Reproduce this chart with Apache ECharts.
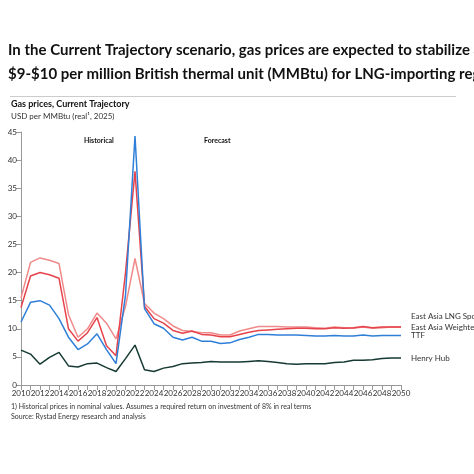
<!DOCTYPE html>
<html>
<head>
<meta charset="utf-8">
<script src="https://cdn.jsdelivr.net/npm/echarts@6/dist/echarts.min.js"></script>
<style>
  html, body { margin: 0; padding: 0; background: #fff; }
  #chart { width: 474px; height: 474px; }
</style>
</head>
<body>
<div id="chart"></div>
<script>
const years = [];
for (let y = 2010; y <= 2050; y++) years.push(String(y));

const spot = [13.8, 19.4, 20, 19.6, 19, 10, 7.8, 9.3, 12, 7, 5.2, 20, 38, 14, 11.8, 11, 9.7, 9.2, 9.6, 9, 8.9,
  8.6, 8.6, 9, 9.4, 9.7, 9.8, 9.9, 10, 10.1, 10.1, 10, 10, 10.2, 10.1, 10.2, 10.4, 10.2, 10.3, 10.3, 10.3];
const weighted = [15.5, 21.8, 22.6, 22.2, 21.6, 12.5, 8.5, 10, 12.8, 11, 8.2, 14, 22.5, 14.5, 12.8, 11.8, 10.5, 9.7, 9.5, 9.3, 9.3,
  8.9, 8.9, 9.6, 10, 10.4, 10.4, 10.4, 10.3, 10.3, 10.3, 10.2, 10.1, 10.3, 10.2, 10.1, 10.3, 10.1, 10.2, 10.3, 10.3];
const ttf = [11.2, 14.7, 15, 14.2, 11.8, 8.5, 6.3, 7.3, 9.1, 6.3, 3.8, 16, 44.3, 13.6, 10.9, 10.1, 8.5, 8, 8.5, 7.8, 7.8,
  7.4, 7.5, 8.1, 8.5, 9, 9, 8.9, 8.9, 8.9, 8.8, 8.7, 8.7, 8.8, 8.7, 8.7, 8.9, 8.7, 8.8, 8.8, 8.8];
const henryHub = [6.2, 5.5, 3.7, 4.9, 5.8, 3.4, 3.2, 3.8, 3.9, 3.1, 2.4, 4.7, 7.1, 2.7, 2.4, 3, 3.3, 3.8, 3.9, 4, 4.2,
  4.1, 4.1, 4.1, 4.2, 4.3, 4.2, 4, 3.8, 3.7, 3.8, 3.8, 3.8, 4, 4.1, 4.4, 4.4, 4.5, 4.7, 4.8, 4.8];

const font = "Lato, 'Open Sans', sans-serif";
const chart = echarts.init(document.getElementById("chart"));

function line(name, data, color, dy) {
  return {
    name, type: "line", data, symbol: "none", smooth: false,
    lineStyle: { color, width: 1.5 },
    itemStyle: { color },
    endLabel: { show: true, formatter: name, color: "#333", fontSize: 8, fontFamily: font, offset: [2, dy] },
    animation: false
  };
}

chart.setOption({
  backgroundColor: "#fff",
  textStyle: { fontFamily: font },
  grid: { left: 21, right: 73, top: 132, bottom: 89 },
  xAxis: {
    type: "category", data: years, boundaryGap: false,
    axisLine: { lineStyle: { color: "#999" } },
    axisTick: { show: true, interval: 0, lineStyle: { color: "#999" } },
    axisLabel: { interval: 1, color: "#333", fontSize: 8, margin: 4 }
  },
  yAxis: {
    type: "value", min: 0, max: 45, interval: 5,
    axisLine: { show: true, lineStyle: { color: "#999" } },
    axisTick: { show: true, lineStyle: { color: "#999" } },
    splitLine: { show: false },
    axisLabel: { color: "#333", fontSize: 8, margin: 4 }
  },
  series: [
    line("East Asia Weighted", weighted, "#f08a8a", 0),
    line("East Asia LNG Spot", spot, "#e6434b", -11),
    line("TTF", ttf, "#2f7fd8", 0),
    line("Henry Hub", henryHub, "#163a33", 0)
  ],
  graphic: [
    { type: "text", left: 8, top: 38, style: { text: "In the Current Trajectory scenario, gas prices are expected to stabilize at\n$9-$10 per million British thermal unit (MMBtu) for LNG-importing regions",
      font: "bold 15px " + font, fill: "#111", lineHeight: 24 } },
    { type: "rect", shape: { x: 10, y: 96, width: 446, height: 1 }, style: { fill: "#ccc" } },
    { type: "text", left: 11, top: 100, style: { text: "Gas prices, Current Trajectory", font: "bold 9px " + font, fill: "#111" } },
    { type: "text", left: 11, top: 112, style: { text: "USD per MMBtu (real¹, 2025)", font: "8px " + font, fill: "#333" } },
    { type: "text", left: 84, top: 137, style: { text: "Historical", font: "bold 7px " + font, fill: "#111" } },
    { type: "text", left: 204, top: 137, style: { text: "Forecast", font: "bold 7px " + font, fill: "#111" } },
    { type: "text", left: 11, top: 402, style: { text: "1) Historical prices in nominal values. Assumes a required return on investment of 8% in real terms\nSource: Rystad Energy research and analysis",
      font: "7px " + font, fill: "#333", lineHeight: 10 } }
  ]
});
</script>
</body>
</html>
